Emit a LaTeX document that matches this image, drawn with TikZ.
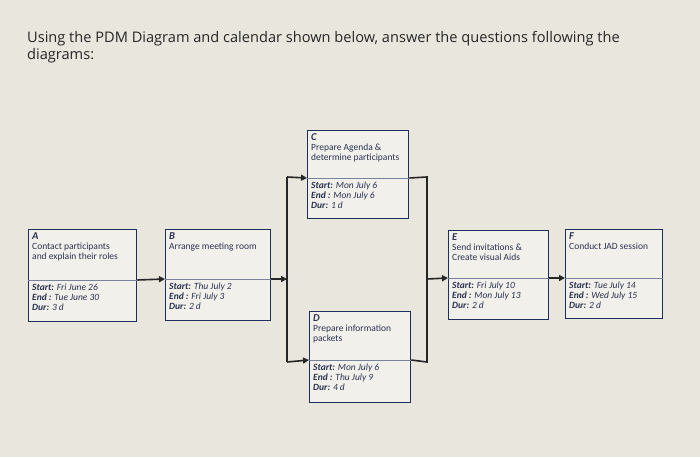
\documentclass[tikz,border=0pt]{standalone}
\usepackage{fontspec}
\setmainfont{Carlito}
\newfontfamily\titlefont{Open Sans}
\usetikzlibrary{arrows.meta}
\definecolor{bg}{HTML}{E9E6DE}
\definecolor{navy}{HTML}{1F2F5C}
\definecolor{ink}{HTML}{2A3250}
\tikzset{
  task/.style={draw=navy,line width=1.3pt,fill=bg!60!white,minimum width=#1,inner sep=0pt,anchor=north west},
  lbl/.style={anchor=north west,inner sep=0pt,text=ink,font=\fontsize{9.5}{10}\selectfont,align=left},
  conn/.style={line width=1.6pt,draw=black!85},
  arr/.style={conn,-{Triangle[length=6pt,width=6pt]}},
}
\newcommand{\pdmbox}[9]{%
 \node[task=#4pt,minimum height=#5pt] (#1) at (#2,#3) {};
 \draw[navy!60,line width=0.4pt] ([yshift=-#6pt]#1.north west) coordinate (#1l) -- ([yshift=-#6pt]#1.north east) coordinate (#1r);
 \node[lbl] (#1t) at ([xshift=4pt,yshift=-3pt]#1.north west) {{\fontsize{10.5}{11}\selectfont\textbf{\textit{#7}}}\\#8};
 \node[lbl] (#1d) at ([xshift=4pt,yshift=-#6pt-4pt]#1.north west) {#9};
}
\begin{document}
\begin{tikzpicture}[x=1pt,y=-1pt]
\useasboundingbox (0,0) rectangle (700,457);
\fill[bg] (0,0) rectangle (700,457);
\node[anchor=north west,inner sep=0pt,font=\titlefont\fontsize{14.6}{17}\selectfont,text=black!85,align=left] (title) at (27,31) {Using the PDM Diagram and calendar shown below, answer the questions following the\\diagrams:};
\pdmbox{A}{28}{229}{108}{92}{51}{A}{Contact participants\\and explain their roles}{\textbf{\textit{Start:}} \textit{Fri June 26}\\\textbf{\textit{End :}} \textit{Tue June 30}\\\textbf{\textit{Dur:}} \textit{3 d}}
\pdmbox{B}{165}{229}{105}{91}{50}{B}{Arrange meeting room}{\textbf{\textit{Start:}} \textit{Thu July 2}\\\textbf{\textit{End :}} \textit{Fri July 3}\\\textbf{\textit{Dur:}} \textit{2 d}}
\pdmbox{C}{307}{130}{101}{88}{48}{C}{Prepare Agenda \&\\determine participants}{\textbf{\textit{Start:}} \textit{Mon July 6}\\\textbf{\textit{End :}} \textit{Mon July 6}\\\textbf{\textit{Dur:}} \textit{1 d}}
\pdmbox{D}{309}{311}{101}{91}{49}{D}{Prepare information\\packets}{\textbf{\textit{Start:}} \textit{Mon July 6}\\\textbf{\textit{End :}} \textit{Thu July 9}\\\textbf{\textit{Dur:}} \textit{4 d}}
\pdmbox{E}{448}{230}{100}{89}{48}{E}{Send invitations \&\\Create visual Aids}{\textbf{\textit{Start:}} \textit{Fri July 10}\\\textbf{\textit{End :}} \textit{Mon July 13}\\\textbf{\textit{Dur:}} \textit{2 d}}
\pdmbox{F}{565}{229}{97}{89}{49}{F}{Conduct JAD session}{\textbf{\textit{Start:}} \textit{Tue July 14}\\\textbf{\textit{End :}} \textit{Wed July 15}\\\textbf{\textit{Dur:}} \textit{2 d}}
\coordinate (j1) at (287,279);
\coordinate (j2) at (427,279);
\draw[arr] (Ar) -- (Bl);
\draw[arr] (Br) -- (j1);
\draw[conn] (287,177) -- (287,362);
\draw[arr] (287,177) -- (Cl);
\draw[arr] (287,362) -- (Dl);
\draw[conn] (Cr) -- (427,177) -- (427,362) -- (Dr);
\draw[arr] (j2) -- (El);
\draw[arr] (Er) -- (Fl);
\end{tikzpicture}
\end{document}
